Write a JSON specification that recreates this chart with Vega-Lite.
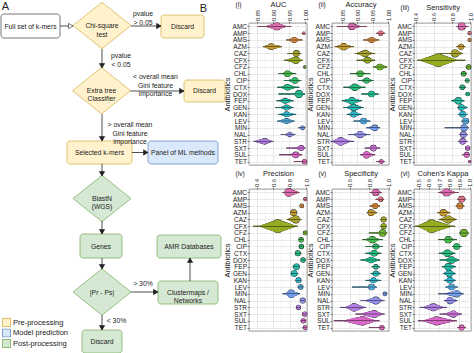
{
"$schema": "https://vega.github.io/schema/vega-lite/v6.json",
"padding": 0,
"background": "white",
"bounds": "flush",
"spacing": 20,
"config": {
 "font": "Liberation Sans",
 "view": {"stroke": "#4a4a4a", "strokeWidth": 0.6},
 "axis": {"labelFont": "Liberation Sans", "titleFont": "Liberation Sans", "labelColor": "#1a1a1a", "titleColor": "#1a1a1a", "titleFontWeight": "normal", "tickColor": "#333333", "tickSize": 2, "tickWidth": 0.6, "domain": false, "gridColor": "#dcdcdc", "gridWidth": 0.6, "labelPadding": 0.5, "titlePadding": 0.5, "titleFontSize": 7.5},
 "axisX": {"labelFontSize": 5.8},
 "axisY": {"labelFontSize": 6.5},
 "title": {"font": "Liberation Sans", "fontSize": 6.5, "fontWeight": "normal", "color": "#1a1a1a", "anchor": "start", "frame": "bounds", "offset": -8, "dx": 12}
},
"datasets": {
 "boxes": [
  {"s":"Input","x1":1,"x2":60,"y1":13,"y2":37},
  {"s":"Pre-processing","x1":161,"x2":204,"y1":14,"y2":37},
  {"s":"Pre-processing","x1":184,"x2":225,"y1":79,"y2":101},
  {"s":"Pre-processing","x1":67,"x2":132,"y1":140,"y2":163},
  {"s":"Model prediction","x1":148,"x2":218,"y1":140,"y2":163},
  {"s":"Post-processing","x1":80,"x2":122,"y1":233,"y2":257},
  {"s":"Post-processing","x1":157,"x2":221,"y1":234,"y2":257},
  {"s":"Post-processing","x1":158,"x2":218,"y1":280,"y2":303},
  {"s":"Post-processing","x1":82,"x2":122,"y1":329,"y2":352}
 ],
 "diamonds": [
  {"s":"Pre-processing","x":102,"y":24.5},
  {"s":"Pre-processing","x":101.5,"y":89.7},
  {"s":"Post-processing","x":102,"y":197.5},
  {"s":"Post-processing","x":102,"y":291}
 ],
 "edges": [
  {"x":60,"y":25,"x2":73,"y2":25,"dir":"r","open":true},
  {"x":131,"y":25,"x2":161,"y2":25,"dir":"r","open":false},
  {"x":102,"y":48,"x2":102,"y2":67,"dir":"d","open":false},
  {"x":130.5,"y":90,"x2":184,"y2":90,"dir":"r","open":false},
  {"x":102,"y":113,"x2":102,"y2":140,"dir":"d","open":false},
  {"x":132,"y":151.5,"x2":148,"y2":151.5,"dir":"r","open":false},
  {"x":102,"y":163,"x2":102,"y2":175,"dir":"d","open":false},
  {"x":102,"y":220,"x2":102,"y2":233,"dir":"d","open":false},
  {"x":102,"y":257,"x2":102,"y2":268,"dir":"d","open":false},
  {"x":131,"y":291,"x2":158,"y2":291,"dir":"r","open":false},
  {"x":190,"y":280,"x2":190,"y2":257,"dir":"u","open":false},
  {"x":102,"y":314,"x2":102,"y2":329,"dir":"d","open":false}
 ],
 "texts": [
  {"t":"Full set of k-mers","x":30.5,"y":25.5},
  {"t":"Chi-square\ntest","x":102,"y":25},
  {"t":"Discard","x":182.5,"y":25.5},
  {"t":"pvalue\n> 0.05","x":143,"y":13},
  {"t":"pvalue\n< 0.05","x":121,"y":55},
  {"t":"Extra tree\nClassifier","x":101.5,"y":89.5},
  {"t":"< overall mean\nGini feature\nimportance","x":155.5,"y":76},
  {"t":"Discard","x":204.5,"y":90},
  {"t":"> overall mean\nGini feature\nimportance","x":130,"y":124},
  {"t":"Selected k-mers","x":99.5,"y":152},
  {"t":"Panel of ML methods","x":183,"y":152},
  {"t":"BlastN\n(WGS)","x":102,"y":197.5},
  {"t":"Genes","x":101,"y":245.5},
  {"t":"AMR Databases","x":189,"y":245.5},
  {"t":"|Pr - Ps|","x":102,"y":291.5},
  {"t":"> 30%","x":143,"y":283},
  {"t":"Clustermaps /\nNetworks","x":188,"y":291.5},
  {"t":"< 30%","x":116.5,"y":320},
  {"t":"Discard","x":102,"y":340.5}
 ],
 "letters": [
  {"t":"A","x":5.5,"y":6},
  {"t":"B","x":203.5,"y":7.5}
 ],
 "AUC": [
  {"a":"AMC","lo":0.853,"p":0.879,"m":0.912,"q":0.94,"hi":0.956,"d":0.55},
  {"a":"AMP","lo":0.991,"p":0.993,"m":0.996,"q":0.999,"hi":1.0,"d":0.2},
  {"a":"AMS","lo":0.942,"p":0.948,"m":0.966,"q":0.983,"hi":0.991,"d":0.4},
  {"a":"AZM","lo":0.869,"p":0.872,"m":0.894,"q":0.925,"hi":0.927,"d":0.45},
  {"a":"CAZ","lo":0.945,"p":0.959,"m":0.973,"q":0.984,"hi":0.987,"d":0.45},
  {"a":"CFX","lo":0.935,"p":0.942,"m":0.971,"q":0.989,"hi":0.991,"d":0.5},
  {"a":"CFZ","lo":0.996,"p":0.997,"m":0.999,"q":1.0,"hi":1.0,"d":0.2},
  {"a":"CHL","lo":0.918,"p":0.93,"m":0.945,"q":0.963,"hi":0.971,"d":0.45},
  {"a":"CIP","lo":0.935,"p":0.95,"m":0.968,"q":0.983,"hi":0.987,"d":0.45},
  {"a":"CTX","lo":0.914,"p":0.925,"m":0.945,"q":0.971,"hi":0.981,"d":0.45},
  {"a":"DOX","lo":0.918,"p":0.964,"m":0.981,"q":0.996,"hi":0.999,"d":0.55},
  {"a":"FEP","lo":0.912,"p":0.92,"m":0.938,"q":0.959,"hi":0.963,"d":0.4},
  {"a":"GEN","lo":0.908,"p":0.925,"m":0.942,"q":0.959,"hi":0.963,"d":0.4},
  {"a":"KAN","lo":0.918,"p":0.923,"m":0.942,"q":0.966,"hi":0.971,"d":0.4},
  {"a":"LEV","lo":0.914,"p":0.92,"m":0.942,"q":0.963,"hi":0.966,"d":0.4},
  {"a":"MIN","lo":0.98,"p":0.983,"m":0.992,"q":0.999,"hi":1.0,"d":0.3},
  {"a":"NAL","lo":0.925,"p":0.938,"m":0.952,"q":0.966,"hi":0.969,"d":0.35},
  {"a":"STR","lo":0.84,"p":0.843,"m":0.874,"q":0.897,"hi":0.9,"d":0.45},
  {"a":"SXT","lo":0.942,"p":0.971,"m":0.988,"q":1.0,"hi":1.0,"d":0.4},
  {"a":"SUL","lo":0.92,"p":0.953,"m":0.971,"q":0.986,"hi":0.99,"d":0.45},
  {"a":"TET","lo":0.966,"p":0.991,"m":0.998,"q":1.0,"hi":1.0,"d":0.35}
 ],
 "ACC": [
  {"a":"AMC","lo":0.834,"p":0.866,"m":0.882,"q":0.909,"hi":0.93,"d":0.5},
  {"a":"AMP","lo":0.962,"p":0.965,"m":0.976,"q":0.987,"hi":0.989,"d":0.35},
  {"a":"AMS","lo":0.92,"p":0.927,"m":0.946,"q":0.965,"hi":0.97,"d":0.4},
  {"a":"AZM","lo":0.827,"p":0.831,"m":0.855,"q":0.88,"hi":0.888,"d":0.5},
  {"a":"CAZ","lo":0.893,"p":0.898,"m":0.925,"q":0.948,"hi":0.957,"d":0.5},
  {"a":"CFX","lo":0.898,"p":0.914,"m":0.933,"q":0.952,"hi":0.957,"d":0.45},
  {"a":"CFZ","lo":0.952,"p":0.957,"m":0.973,"q":0.994,"hi":0.996,"d":0.45},
  {"a":"CHL","lo":0.877,"p":0.893,"m":0.909,"q":0.925,"hi":0.941,"d":0.45},
  {"a":"CIP","lo":0.904,"p":0.914,"m":0.93,"q":0.946,"hi":0.952,"d":0.4},
  {"a":"CTX","lo":0.855,"p":0.871,"m":0.891,"q":0.914,"hi":0.925,"d":0.5},
  {"a":"DOX","lo":0.914,"p":0.93,"m":0.946,"q":0.962,"hi":0.968,"d":0.45},
  {"a":"FEP","lo":0.85,"p":0.855,"m":0.882,"q":0.909,"hi":0.914,"d":0.5},
  {"a":"GEN","lo":0.855,"p":0.866,"m":0.888,"q":0.914,"hi":0.92,"d":0.5},
  {"a":"KAN","lo":0.866,"p":0.871,"m":0.888,"q":0.909,"hi":0.914,"d":0.45},
  {"a":"LEV","lo":0.888,"p":0.904,"m":0.92,"q":0.936,"hi":0.941,"d":0.45},
  {"a":"MIN","lo":0.93,"p":0.936,"m":0.957,"q":0.968,"hi":0.973,"d":0.45},
  {"a":"NAL","lo":0.871,"p":0.888,"m":0.909,"q":0.93,"hi":0.941,"d":0.5},
  {"a":"STR","lo":0.813,"p":0.818,"m":0.845,"q":0.877,"hi":0.888,"d":0.6},
  {"a":"SXT","lo":0.925,"p":0.936,"m":0.952,"q":0.965,"hi":0.973,"d":0.45},
  {"a":"SUL","lo":0.909,"p":0.914,"m":0.93,"q":0.952,"hi":0.957,"d":0.5},
  {"a":"TET","lo":0.962,"p":0.968,"m":0.978,"q":0.987,"hi":0.989,"d":0.3}
 ],
 "SEN": [
  {"a":"AMC","lo":0.852,"p":0.87,"m":0.908,"q":0.965,"hi":0.981,"d":0.55},
  {"a":"AMP","lo":0.985,"p":0.988,"m":0.995,"q":1.0,"hi":1.0,"d":0.25},
  {"a":"AMS","lo":0.985,"p":0.988,"m":0.995,"q":1.0,"hi":1.0,"d":0.25},
  {"a":"AZM","lo":0.852,"p":0.863,"m":0.9,"q":0.937,"hi":0.945,"d":0.4},
  {"a":"CAZ","lo":0.667,"p":0.778,"m":0.834,"q":0.908,"hi":0.919,"d":0.55},
  {"a":"CFX","lo":0.415,"p":0.445,"m":0.648,"q":0.852,"hi":0.945,"d":1.0},
  {"a":"CFZ","lo":0.956,"p":0.963,"m":0.985,"q":1.0,"hi":1.0,"d":0.35},
  {"a":"CHL","lo":0.9,"p":0.908,"m":0.93,"q":0.956,"hi":0.963,"d":0.35},
  {"a":"CIP","lo":0.945,"p":0.952,"m":0.97,"q":0.981,"hi":0.985,"d":0.3},
  {"a":"CTX","lo":0.882,"p":0.889,"m":0.915,"q":0.945,"hi":0.952,"d":0.35},
  {"a":"DOX","lo":0.956,"p":0.963,"m":0.974,"q":0.99,"hi":0.993,"d":0.3},
  {"a":"FEP","lo":0.797,"p":0.808,"m":0.871,"q":0.926,"hi":0.934,"d":0.5},
  {"a":"GEN","lo":0.863,"p":0.871,"m":0.905,"q":0.963,"hi":0.97,"d":0.45},
  {"a":"KAN","lo":0.871,"p":0.882,"m":0.919,"q":0.963,"hi":0.97,"d":0.45},
  {"a":"LEV","lo":0.908,"p":0.919,"m":0.952,"q":0.981,"hi":0.985,"d":0.45},
  {"a":"MIN","lo":0.722,"p":0.889,"m":0.934,"q":0.981,"hi":0.985,"d":0.5},
  {"a":"NAL","lo":0.882,"p":0.889,"m":0.926,"q":0.97,"hi":0.974,"d":0.45},
  {"a":"STR","lo":0.871,"p":0.882,"m":0.919,"q":0.963,"hi":0.97,"d":0.45},
  {"a":"SXT","lo":0.956,"p":0.963,"m":0.974,"q":0.993,"hi":0.996,"d":0.35},
  {"a":"SUL","lo":0.919,"p":0.926,"m":0.963,"q":0.993,"hi":0.996,"d":0.4},
  {"a":"TET","lo":0.985,"p":0.99,"m":0.996,"q":1.0,"hi":1.0,"d":0.2}
 ],
 "PRE": [
  {"a":"AMC","lo":0.716,"p":0.736,"m":0.788,"q":0.908,"hi":0.916,"d":0.6},
  {"a":"AMP","lo":0.98,"p":0.982,"m":0.99,"q":1.0,"hi":1.0,"d":0.25},
  {"a":"AMS","lo":0.936,"p":0.94,"m":0.948,"q":0.958,"hi":0.962,"d":0.3},
  {"a":"AZM","lo":0.81,"p":0.816,"m":0.848,"q":0.884,"hi":0.89,"d":0.45},
  {"a":"CAZ","lo":0.77,"p":0.776,"m":0.876,"q":0.936,"hi":0.94,"d":0.55},
  {"a":"CFX","lo":0.356,"p":0.436,"m":0.656,"q":0.876,"hi":0.896,"d":1.0},
  {"a":"CFZ","lo":0.98,"p":0.984,"m":0.99,"q":0.998,"hi":1.0,"d":0.3},
  {"a":"CHL","lo":0.91,"p":0.916,"m":0.94,"q":0.964,"hi":0.968,"d":0.35},
  {"a":"CIP","lo":0.916,"p":0.924,"m":0.944,"q":0.964,"hi":0.968,"d":0.35},
  {"a":"CTX","lo":0.87,"p":0.876,"m":0.9,"q":0.936,"hi":0.94,"d":0.4},
  {"a":"DOX","lo":0.936,"p":0.94,"m":0.964,"q":0.99,"hi":0.994,"d":0.35},
  {"a":"FEP","lo":0.84,"p":0.848,"m":0.884,"q":0.916,"hi":0.92,"d":0.45},
  {"a":"GEN","lo":0.81,"p":0.816,"m":0.856,"q":0.896,"hi":0.9,"d":0.45},
  {"a":"KAN","lo":0.87,"p":0.876,"m":0.908,"q":0.936,"hi":0.94,"d":0.4},
  {"a":"LEV","lo":0.9,"p":0.908,"m":0.936,"q":0.956,"hi":0.96,"d":0.35},
  {"a":"MIN","lo":0.716,"p":0.748,"m":0.82,"q":0.916,"hi":0.924,"d":0.6},
  {"a":"NAL","lo":0.936,"p":0.94,"m":0.96,"q":0.99,"hi":0.994,"d":0.4},
  {"a":"STR","lo":0.884,"p":0.888,"m":0.908,"q":0.926,"hi":0.93,"d":0.35},
  {"a":"SXT","lo":0.96,"p":0.964,"m":0.984,"q":1.0,"hi":1.0,"d":0.35},
  {"a":"SUL","lo":0.936,"p":0.94,"m":0.968,"q":0.996,"hi":1.0,"d":0.35},
  {"a":"TET","lo":0.96,"p":0.964,"m":0.988,"q":1.0,"hi":1.0,"d":0.3}
 ],
 "SPE": [
  {"a":"AMC","lo":0.81,"p":0.819,"m":0.87,"q":0.922,"hi":0.93,"d":0.5},
  {"a":"AMP","lo":0.87,"p":0.887,"m":0.92,"q":0.946,"hi":0.95,"d":0.35},
  {"a":"AMS","lo":0.81,"p":0.819,"m":0.863,"q":0.905,"hi":0.91,"d":0.4},
  {"a":"AZM","lo":0.78,"p":0.784,"m":0.82,"q":0.877,"hi":0.88,"d":0.45},
  {"a":"CAZ","lo":0.918,"p":0.922,"m":0.95,"q":0.973,"hi":0.978,"d":0.4},
  {"a":"CFX","lo":0.918,"p":0.922,"m":0.95,"q":0.973,"hi":0.978,"d":0.4},
  {"a":"CFZ","lo":0.801,"p":0.887,"m":0.94,"q":0.98,"hi":0.984,"d":0.5},
  {"a":"CHL","lo":0.733,"p":0.767,"m":0.836,"q":0.905,"hi":0.939,"d":0.5},
  {"a":"CIP","lo":0.767,"p":0.829,"m":0.87,"q":0.911,"hi":0.939,"d":0.4},
  {"a":"CTX","lo":0.767,"p":0.795,"m":0.853,"q":0.905,"hi":0.922,"d":0.45},
  {"a":"DOX","lo":0.716,"p":0.75,"m":0.82,"q":0.898,"hi":0.911,"d":0.45},
  {"a":"FEP","lo":0.83,"p":0.836,"m":0.87,"q":0.905,"hi":0.91,"d":0.35},
  {"a":"GEN","lo":0.82,"p":0.829,"m":0.87,"q":0.911,"hi":0.918,"d":0.4},
  {"a":"KAN","lo":0.767,"p":0.795,"m":0.846,"q":0.898,"hi":0.922,"d":0.4},
  {"a":"LEV","lo":0.629,"p":0.795,"m":0.826,"q":0.87,"hi":0.877,"d":0.45},
  {"a":"MIN","lo":0.946,"p":0.95,"m":0.963,"q":0.98,"hi":0.984,"d":0.3},
  {"a":"NAL","lo":0.716,"p":0.767,"m":0.87,"q":0.939,"hi":0.956,"d":0.55},
  {"a":"STR","lo":0.509,"p":0.56,"m":0.647,"q":0.75,"hi":0.767,"d":0.6},
  {"a":"SXT","lo":0.664,"p":0.716,"m":0.853,"q":0.939,"hi":0.956,"d":0.55},
  {"a":"SUL","lo":0.441,"p":0.543,"m":0.733,"q":0.87,"hi":0.905,"d":0.7},
  {"a":"TET","lo":0.801,"p":0.898,"m":0.932,"q":0.956,"hi":0.96,"d":0.35}
 ],
 "KAP": [
  {"a":"AMC","lo":0.693,"p":0.709,"m":0.774,"q":0.856,"hi":0.889,"d":0.55},
  {"a":"AMP","lo":0.88,"p":0.889,"m":0.921,"q":0.954,"hi":0.96,"d":0.45},
  {"a":"AMS","lo":0.866,"p":0.872,"m":0.905,"q":0.938,"hi":0.944,"d":0.45},
  {"a":"AZM","lo":0.685,"p":0.693,"m":0.742,"q":0.8,"hi":0.807,"d":0.5},
  {"a":"CAZ","lo":0.7,"p":0.709,"m":0.79,"q":0.866,"hi":0.872,"d":0.55},
  {"a":"CFX","lo":0.464,"p":0.487,"m":0.627,"q":0.823,"hi":0.856,"d":1.0},
  {"a":"CFZ","lo":0.9,"p":0.905,"m":0.944,"q":0.987,"hi":0.99,"d":0.55},
  {"a":"CHL","lo":0.693,"p":0.742,"m":0.79,"q":0.846,"hi":0.872,"d":0.5},
  {"a":"CIP","lo":0.83,"p":0.84,"m":0.872,"q":0.912,"hi":0.92,"d":0.45},
  {"a":"CTX","lo":0.7,"p":0.725,"m":0.781,"q":0.846,"hi":0.856,"d":0.5},
  {"a":"DOX","lo":0.709,"p":0.758,"m":0.823,"q":0.889,"hi":0.895,"d":0.5},
  {"a":"FEP","lo":0.73,"p":0.742,"m":0.79,"q":0.856,"hi":0.862,"d":0.5},
  {"a":"GEN","lo":0.74,"p":0.748,"m":0.8,"q":0.856,"hi":0.862,"d":0.5},
  {"a":"KAN","lo":0.75,"p":0.758,"m":0.807,"q":0.856,"hi":0.862,"d":0.45},
  {"a":"LEV","lo":0.765,"p":0.774,"m":0.823,"q":0.872,"hi":0.88,"d":0.45},
  {"a":"MIN","lo":0.693,"p":0.758,"m":0.872,"q":0.931,"hi":0.938,"d":0.5},
  {"a":"NAL","lo":0.75,"p":0.758,"m":0.807,"q":0.872,"hi":0.88,"d":0.5},
  {"a":"STR","lo":0.513,"p":0.546,"m":0.644,"q":0.742,"hi":0.774,"d":0.55},
  {"a":"SXT","lo":0.709,"p":0.758,"m":0.84,"q":0.905,"hi":0.921,"d":0.5},
  {"a":"SUL","lo":0.496,"p":0.546,"m":0.676,"q":0.846,"hi":0.872,"d":0.65},
  {"a":"TET","lo":0.88,"p":0.889,"m":0.921,"q":0.954,"hi":0.96,"d":0.4}
 ]
},
"hconcat": [
 {
  "width": 229, "height": 331,
  "view": {"stroke": null},
  "layer": [
   {
    "data": {"name": "boxes"},
    "mark": {"type": "rect", "cornerRadius": 3, "strokeWidth": 0.8},
    "encoding": {
     "x": {"field": "x1", "type": "quantitative", "scale": {"domain": [0, 229], "nice": false, "zero": false}, "axis": null},
     "x2": {"field": "x2"},
     "y": {"field": "y1", "type": "quantitative", "scale": {"domain": [22, 353], "nice": false, "zero": false, "reverse": true}, "axis": null},
     "y2": {"field": "y2"},
     "fill": {"field": "s", "type": "nominal", "scale": {"domain": ["Input", "Pre-processing", "Model prediction", "Post-processing"], "range": ["#ffffff", "#fff2cc", "#dae8fc", "#d5e8d4"]},
      "legend": {"values": ["Pre-processing", "Model prediction", "Post-processing"], "orient": "none", "legendX": 2, "legendY": 295, "title": null, "symbolType": "square", "symbolSize": 64, "symbolStrokeWidth": 0.9, "labelFontSize": 7.5, "labelFont": "Liberation Sans", "labelColor": "#222222", "rowPadding": 1.5, "clipHeight": 9, "labelOffset": 2, "padding": 0}},
     "stroke": {"field": "s", "type": "nominal", "scale": {"domain": ["Input", "Pre-processing", "Model prediction", "Post-processing"], "range": ["#555555", "#d6b656", "#6c8ebf", "#82b366"]},
      "legend": {"values": ["Pre-processing", "Model prediction", "Post-processing"], "orient": "none", "legendX": 2, "legendY": 295, "title": null, "symbolType": "square", "symbolSize": 64, "symbolStrokeWidth": 0.9, "labelFontSize": 7.5, "labelFont": "Liberation Sans", "labelColor": "#222222", "rowPadding": 1.5, "clipHeight": 9, "labelOffset": 2, "padding": 0}}
    }
   },
   {
    "data": {"name": "diamonds"},
    "mark": {"type": "point", "filled": true, "shape": "M-1,0L0,-0.8L1,0L0,0.8Z", "size": 3364, "strokeWidth": 0.8, "opacity": 1},
    "encoding": {
     "x": {"field": "x", "type": "quantitative", "axis": null},
     "y": {"field": "y", "type": "quantitative", "axis": null},
     "fill": {"field": "s", "type": "nominal", "legend": null},
     "stroke": {"field": "s", "type": "nominal", "legend": null}
    }
   },
   {
    "data": {"name": "edges"},
    "mark": {"type": "rule", "color": "#222222", "strokeWidth": 0.8},
    "encoding": {
     "x": {"field": "x", "type": "quantitative", "axis": null},
     "x2": {"field": "x2"},
     "y": {"field": "y", "type": "quantitative", "axis": null},
     "y2": {"field": "y2"}
    }
   },
   {
    "data": {"name": "edges"},
    "mark": {"type": "point", "filled": true, "stroke": "#222222", "strokeWidth": 0.6, "opacity": 1, "size": 20},
    "encoding": {
     "x": {"field": "x2", "type": "quantitative", "axis": null},
     "y": {"field": "y2", "type": "quantitative", "axis": null},
     "shape": {"field": "dir", "type": "nominal", "scale": {"domain": ["r", "d", "u"], "range": ["M0,0L-2,-1.2L-2,1.2Z", "M0,0L-1.2,-2L1.2,-2Z", "M0,0L-1.2,2L1.2,2Z"]}, "legend": null},
     "fill": {"condition": {"test": "datum.open === true", "value": "#ffffff"}, "value": "#222222"}
    }
   },
   {
    "data": {"name": "texts"},
    "mark": {"type": "text", "fontSize": 6.8, "lineBreak": "\n", "lineHeight": 8.5, "color": "#222222", "align": "center", "baseline": "middle"},
    "encoding": {
     "x": {"field": "x", "type": "quantitative", "axis": null},
     "y": {"field": "y", "type": "quantitative", "axis": null},
     "text": {"field": "t"}
    }
   },
   {
    "data": {"name": "letters"},
    "mark": {"type": "text", "fontSize": 11, "color": "#222222", "align": "center", "baseline": "middle"},
    "encoding": {
     "x": {"field": "x", "type": "quantitative", "axis": null},
     "y": {"field": "y", "type": "quantitative", "axis": null},
     "text": {"field": "t"}
    }
   }
  ]
 },
 {
  "bounds": "full",
  "spacing": 3,
  "vconcat": [
   {
    "bounds": "flush",
    "spacing": 25,
    "hconcat": [
     {
      "width": 58, "height": 142, "title": "(i)",
      "data": {"name": "AUC"},
      "transform": [{"fold": ["lo", "p", "m", "q", "hi"], "as": ["k", "x"]}],
      "encoding": {
       "x": {"field": "x", "type": "quantitative", "scale": {"domain": [0.825, 1.006], "nice": false, "zero": false},
        "axis": {"orient": "top", "title": "AUC", "values": [0.825, 0.85, 0.875, 0.9, 0.925, 0.95, 0.975, 1], "labelAngle": -90, "labelFlush": false, "labelOverlap": false,
         "labelExpr": "abs(datum.value*20-round(datum.value*20))<0.001 ? format(datum.value,'.2f') : ''",
         "gridColor": {"condition": {"test": "abs(datum.value*20-round(datum.value*20))<0.001", "value": "#d6d6d6"}, "value": "#eeeeee"},
         "tickOpacity": {"condition": {"test": "abs(datum.value*20-round(datum.value*20))<0.001", "value": 1}, "value": 0}}},
       "y": {"field": "a", "type": "nominal", "sort": null, "scale": {"domain": ["AMC","AMP","AMS","AZM","CAZ","CFX","CFZ","CHL","CIP","CTX","DOX","FEP","GEN","KAN","LEV","MIN","NAL","STR","SXT","SUL","TET"]}, "axis": {"title": "Antibiotics", "grid": true}},
       "detail": {"field": "a"},
       "order": {"field": "x", "type": "quantitative"}
      },
      "layer": [
       {"mark": {"type": "trail"}, "encoding": {"color": {"value": "#1a1a1a"}, "size": {"condition": {"test": "datum.k === 'm'", "field": "d", "type": "quantitative", "scale": {"domain": [0, 1], "range": [0.8, 13.8]}, "legend": null}, "value": 0.8}}},
       {"mark": {"type": "trail"}, "encoding": {"color": {"field": "a", "type": "nominal", "scale": {"domain": ["AMC","AMP","AMS","AZM","CAZ","CFX","CFZ","CHL","CIP","CTX","DOX","FEP","GEN","KAN","LEV","MIN","NAL","STR","SXT","SUL","TET"], "range": ["#DC6AAE","#E9748A","#DA8A3C","#C49A2F","#A8A32A","#93AC21","#6DB52F","#45BA4C","#2DBD6B","#23BE80","#22BF91","#21BEA6","#21BBB8","#2FB5CB","#50AADE","#719CEA","#9290EC","#B07EE5","#C970D9","#DA67C8","#E36ABA"]}, "legend": null}, "size": {"condition": {"test": "datum.k === 'm'", "field": "d", "type": "quantitative", "scale": {"domain": [0, 1], "range": [0, 13]}, "legend": null}, "value": 0}}},
       {"mark": {"type": "trail", "color": "#1a1a1a", "size": 0.5}}
      ],
      "resolve": {"scale": {"size": "independent"}}
     },
     {
      "width": 57, "height": 142, "title": "(ii)",
      "data": {"name": "ACC"},
      "transform": [{"fold": ["lo", "p", "m", "q", "hi"], "as": ["k", "x"]}],
      "encoding": {
       "x": {"field": "x", "type": "quantitative", "scale": {"domain": [0.817, 1.003], "nice": false, "zero": false},
        "axis": {"orient": "top", "title": "Accuracy", "values": [0.825, 0.85, 0.875, 0.9, 0.925, 0.95, 0.975, 1], "labelAngle": -90, "labelFlush": false, "labelOverlap": false,
         "labelExpr": "abs(datum.value*20-round(datum.value*20))<0.001 ? format(datum.value,'.2f') : ''",
         "gridColor": {"condition": {"test": "abs(datum.value*20-round(datum.value*20))<0.001", "value": "#d6d6d6"}, "value": "#eeeeee"},
         "tickOpacity": {"condition": {"test": "abs(datum.value*20-round(datum.value*20))<0.001", "value": 1}, "value": 0}}},
       "y": {"field": "a", "type": "nominal", "sort": null, "scale": {"domain": ["AMC","AMP","AMS","AZM","CAZ","CFX","CFZ","CHL","CIP","CTX","DOX","FEP","GEN","KAN","LEV","MIN","NAL","STR","SXT","SUL","TET"]}, "axis": {"title": "Antibiotics", "grid": true}},
       "detail": {"field": "a"},
       "order": {"field": "x", "type": "quantitative"}
      },
      "layer": [
       {"mark": {"type": "trail"}, "encoding": {"color": {"value": "#1a1a1a"}, "size": {"condition": {"test": "datum.k === 'm'", "field": "d", "type": "quantitative", "scale": {"domain": [0, 1], "range": [0.8, 13.8]}, "legend": null}, "value": 0.8}}},
       {"mark": {"type": "trail"}, "encoding": {"color": {"field": "a", "type": "nominal", "scale": {"domain": ["AMC","AMP","AMS","AZM","CAZ","CFX","CFZ","CHL","CIP","CTX","DOX","FEP","GEN","KAN","LEV","MIN","NAL","STR","SXT","SUL","TET"], "range": ["#DC6AAE","#E9748A","#DA8A3C","#C49A2F","#A8A32A","#93AC21","#6DB52F","#45BA4C","#2DBD6B","#23BE80","#22BF91","#21BEA6","#21BBB8","#2FB5CB","#50AADE","#719CEA","#9290EC","#B07EE5","#C970D9","#DA67C8","#E36ABA"]}, "legend": null}, "size": {"condition": {"test": "datum.k === 'm'", "field": "d", "type": "quantitative", "scale": {"domain": [0, 1], "range": [0, 13]}, "legend": null}, "value": 0}}},
       {"mark": {"type": "trail", "color": "#1a1a1a", "size": 0.5}}
      ],
      "resolve": {"scale": {"size": "independent"}}
     },
     {
      "width": 57, "height": 142, "title": "(iii)",
      "data": {"name": "SEN"},
      "transform": [{"fold": ["lo", "p", "m", "q", "hi"], "as": ["k", "x"]}],
      "encoding": {
       "x": {"field": "x", "type": "quantitative", "scale": {"domain": [0.378, 1.011], "nice": false, "zero": false},
        "axis": {"orient": "top", "title": "Sensitivity", "values": [0.4, 0.5, 0.6, 0.7, 0.8, 0.9, 1], "labelAngle": -90, "labelFlush": false, "labelOverlap": false,
         "labelExpr": "abs(datum.value*5-round(datum.value*5))<0.001 ? format(datum.value,'.1f') : ''",
         "gridColor": {"condition": {"test": "abs(datum.value*5-round(datum.value*5))<0.001", "value": "#d6d6d6"}, "value": "#eeeeee"},
         "tickOpacity": {"condition": {"test": "abs(datum.value*5-round(datum.value*5))<0.001", "value": 1}, "value": 0}}},
       "y": {"field": "a", "type": "nominal", "sort": null, "scale": {"domain": ["AMC","AMP","AMS","AZM","CAZ","CFX","CFZ","CHL","CIP","CTX","DOX","FEP","GEN","KAN","LEV","MIN","NAL","STR","SXT","SUL","TET"]}, "axis": {"title": "Antibiotics", "grid": true}},
       "detail": {"field": "a"},
       "order": {"field": "x", "type": "quantitative"}
      },
      "layer": [
       {"mark": {"type": "trail"}, "encoding": {"color": {"value": "#1a1a1a"}, "size": {"condition": {"test": "datum.k === 'm'", "field": "d", "type": "quantitative", "scale": {"domain": [0, 1], "range": [0.8, 13.8]}, "legend": null}, "value": 0.8}}},
       {"mark": {"type": "trail"}, "encoding": {"color": {"field": "a", "type": "nominal", "scale": {"domain": ["AMC","AMP","AMS","AZM","CAZ","CFX","CFZ","CHL","CIP","CTX","DOX","FEP","GEN","KAN","LEV","MIN","NAL","STR","SXT","SUL","TET"], "range": ["#DC6AAE","#E9748A","#DA8A3C","#C49A2F","#A8A32A","#93AC21","#6DB52F","#45BA4C","#2DBD6B","#23BE80","#22BF91","#21BEA6","#21BBB8","#2FB5CB","#50AADE","#719CEA","#9290EC","#B07EE5","#C970D9","#DA67C8","#E36ABA"]}, "legend": null}, "size": {"condition": {"test": "datum.k === 'm'", "field": "d", "type": "quantitative", "scale": {"domain": [0, 1], "range": [0, 13]}, "legend": null}, "value": 0}}},
       {"mark": {"type": "trail", "color": "#1a1a1a", "size": 0.5}}
      ],
      "resolve": {"scale": {"size": "independent"}}
     }
    ]
   },
   {
    "bounds": "flush",
    "spacing": 25,
    "hconcat": [
     {
      "width": 58, "height": 142, "title": "(iv)",
      "data": {"name": "PRE"},
      "transform": [{"fold": ["lo", "p", "m", "q", "hi"], "as": ["k", "x"]}],
      "encoding": {
       "x": {"field": "x", "type": "quantitative", "scale": {"domain": [0.304, 1.012], "nice": false, "zero": false},
        "axis": {"orient": "top", "title": "Precision", "values": [0.4, 0.5, 0.6, 0.7, 0.8, 0.9, 1], "labelAngle": -90, "labelFlush": false, "labelOverlap": false,
         "labelExpr": "abs(datum.value*5-round(datum.value*5))<0.001 ? format(datum.value,'.1f') : ''",
         "gridColor": {"condition": {"test": "abs(datum.value*5-round(datum.value*5))<0.001", "value": "#d6d6d6"}, "value": "#eeeeee"},
         "tickOpacity": {"condition": {"test": "abs(datum.value*5-round(datum.value*5))<0.001", "value": 1}, "value": 0}}},
       "y": {"field": "a", "type": "nominal", "sort": null, "scale": {"domain": ["AMC","AMP","AMS","AZM","CAZ","CFX","CFZ","CHL","CIP","CTX","DOX","FEP","GEN","KAN","LEV","MIN","NAL","STR","SXT","SUL","TET"]}, "axis": {"title": "Antibiotics", "grid": true}},
       "detail": {"field": "a"},
       "order": {"field": "x", "type": "quantitative"}
      },
      "layer": [
       {"mark": {"type": "trail"}, "encoding": {"color": {"value": "#1a1a1a"}, "size": {"condition": {"test": "datum.k === 'm'", "field": "d", "type": "quantitative", "scale": {"domain": [0, 1], "range": [0.8, 13.8]}, "legend": null}, "value": 0.8}}},
       {"mark": {"type": "trail"}, "encoding": {"color": {"field": "a", "type": "nominal", "scale": {"domain": ["AMC","AMP","AMS","AZM","CAZ","CFX","CFZ","CHL","CIP","CTX","DOX","FEP","GEN","KAN","LEV","MIN","NAL","STR","SXT","SUL","TET"], "range": ["#DC6AAE","#E9748A","#DA8A3C","#C49A2F","#A8A32A","#93AC21","#6DB52F","#45BA4C","#2DBD6B","#23BE80","#22BF91","#21BEA6","#21BBB8","#2FB5CB","#50AADE","#719CEA","#9290EC","#B07EE5","#C970D9","#DA67C8","#E36ABA"]}, "legend": null}, "size": {"condition": {"test": "datum.k === 'm'", "field": "d", "type": "quantitative", "scale": {"domain": [0, 1], "range": [0, 13]}, "legend": null}, "value": 0}}},
       {"mark": {"type": "trail", "color": "#1a1a1a", "size": 0.5}}
      ],
      "resolve": {"scale": {"size": "independent"}}
     },
     {
      "width": 57, "height": 142, "title": "(v)",
      "data": {"name": "SPE"},
      "transform": [{"fold": ["lo", "p", "m", "q", "hi"], "as": ["k", "x"]}],
      "encoding": {
       "x": {"field": "x", "type": "quantitative", "scale": {"domain": [0.42, 1.005], "nice": false, "zero": false},
        "axis": {"orient": "top", "title": "Specificity", "values": [0.5, 0.6, 0.7, 0.8, 0.9, 1], "labelAngle": -90, "labelFlush": false, "labelOverlap": false,
         "labelExpr": "abs(datum.value*5-round(datum.value*5))<0.001 ? format(datum.value,'.1f') : ''",
         "gridColor": {"condition": {"test": "abs(datum.value*5-round(datum.value*5))<0.001", "value": "#d6d6d6"}, "value": "#eeeeee"},
         "tickOpacity": {"condition": {"test": "abs(datum.value*5-round(datum.value*5))<0.001", "value": 1}, "value": 0}}},
       "y": {"field": "a", "type": "nominal", "sort": null, "scale": {"domain": ["AMC","AMP","AMS","AZM","CAZ","CFX","CFZ","CHL","CIP","CTX","DOX","FEP","GEN","KAN","LEV","MIN","NAL","STR","SXT","SUL","TET"]}, "axis": {"title": "Antibiotics", "grid": true}},
       "detail": {"field": "a"},
       "order": {"field": "x", "type": "quantitative"}
      },
      "layer": [
       {"mark": {"type": "trail"}, "encoding": {"color": {"value": "#1a1a1a"}, "size": {"condition": {"test": "datum.k === 'm'", "field": "d", "type": "quantitative", "scale": {"domain": [0, 1], "range": [0.8, 13.8]}, "legend": null}, "value": 0.8}}},
       {"mark": {"type": "trail"}, "encoding": {"color": {"field": "a", "type": "nominal", "scale": {"domain": ["AMC","AMP","AMS","AZM","CAZ","CFX","CFZ","CHL","CIP","CTX","DOX","FEP","GEN","KAN","LEV","MIN","NAL","STR","SXT","SUL","TET"], "range": ["#DC6AAE","#E9748A","#DA8A3C","#C49A2F","#A8A32A","#93AC21","#6DB52F","#45BA4C","#2DBD6B","#23BE80","#22BF91","#21BEA6","#21BBB8","#2FB5CB","#50AADE","#719CEA","#9290EC","#B07EE5","#C970D9","#DA67C8","#E36ABA"]}, "legend": null}, "size": {"condition": {"test": "datum.k === 'm'", "field": "d", "type": "quantitative", "scale": {"domain": [0, 1], "range": [0, 13]}, "legend": null}, "value": 0}}},
       {"mark": {"type": "trail", "color": "#1a1a1a", "size": 0.5}}
      ],
      "resolve": {"scale": {"size": "independent"}}
     },
     {
      "width": 57, "height": 142, "title": "(vi)",
      "data": {"name": "KAP"},
      "transform": [{"fold": ["lo", "p", "m", "q", "hi"], "as": ["k", "x"]}],
      "encoding": {
       "x": {"field": "x", "type": "quantitative", "scale": {"domain": [0.454, 1.013], "nice": false, "zero": false},
        "axis": {"orient": "top", "title": "Cohen's Kappa", "values": [0.5, 0.55, 0.6, 0.65, 0.7, 0.75, 0.8, 0.85, 0.9, 0.95, 1], "labelAngle": -90, "labelFlush": false, "labelOverlap": false,
         "labelExpr": "abs(datum.value*10-round(datum.value*10))<0.001 ? format(datum.value,'.1f') : ''",
         "gridColor": {"condition": {"test": "abs(datum.value*10-round(datum.value*10))<0.001", "value": "#d6d6d6"}, "value": "#eeeeee"},
         "tickOpacity": {"condition": {"test": "abs(datum.value*10-round(datum.value*10))<0.001", "value": 1}, "value": 0}}},
       "y": {"field": "a", "type": "nominal", "sort": null, "scale": {"domain": ["AMC","AMP","AMS","AZM","CAZ","CFX","CFZ","CHL","CIP","CTX","DOX","FEP","GEN","KAN","LEV","MIN","NAL","STR","SXT","SUL","TET"]}, "axis": {"title": "Antibiotics", "grid": true}},
       "detail": {"field": "a"},
       "order": {"field": "x", "type": "quantitative"}
      },
      "layer": [
       {"mark": {"type": "trail"}, "encoding": {"color": {"value": "#1a1a1a"}, "size": {"condition": {"test": "datum.k === 'm'", "field": "d", "type": "quantitative", "scale": {"domain": [0, 1], "range": [0.8, 13.8]}, "legend": null}, "value": 0.8}}},
       {"mark": {"type": "trail"}, "encoding": {"color": {"field": "a", "type": "nominal", "scale": {"domain": ["AMC","AMP","AMS","AZM","CAZ","CFX","CFZ","CHL","CIP","CTX","DOX","FEP","GEN","KAN","LEV","MIN","NAL","STR","SXT","SUL","TET"], "range": ["#DC6AAE","#E9748A","#DA8A3C","#C49A2F","#A8A32A","#93AC21","#6DB52F","#45BA4C","#2DBD6B","#23BE80","#22BF91","#21BEA6","#21BBB8","#2FB5CB","#50AADE","#719CEA","#9290EC","#B07EE5","#C970D9","#DA67C8","#E36ABA"]}, "legend": null}, "size": {"condition": {"test": "datum.k === 'm'", "field": "d", "type": "quantitative", "scale": {"domain": [0, 1], "range": [0, 13]}, "legend": null}, "value": 0}}},
       {"mark": {"type": "trail", "color": "#1a1a1a", "size": 0.5}}
      ],
      "resolve": {"scale": {"size": "independent"}}
     }
    ]
   }
  ]
 }
]
}
